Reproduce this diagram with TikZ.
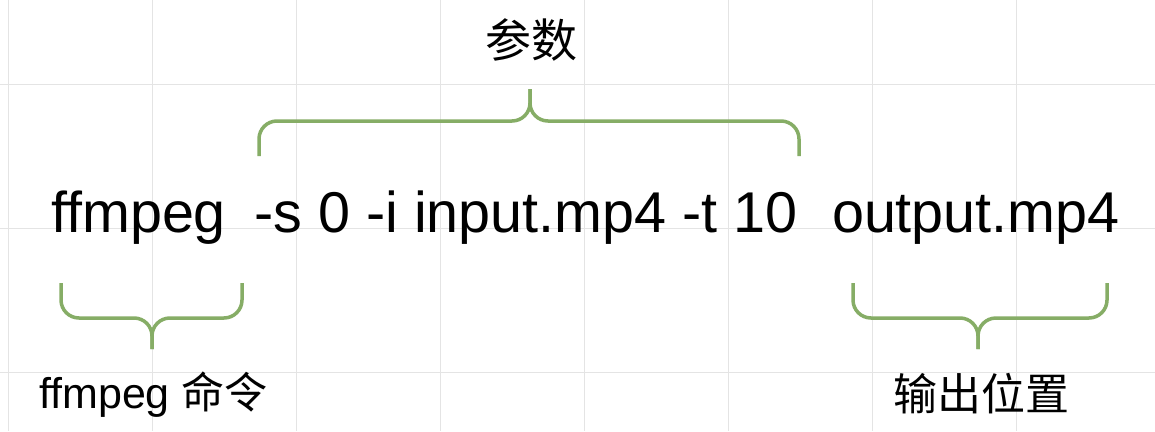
\documentclass[tikz,border=0pt]{standalone}
\usepackage{fontspec}
\setmainfont{Liberation Sans}
\newfontfamily\cjk{Noto Sans CJK SC}
\usepackage{tikz}
\usetikzlibrary{positioning}

\definecolor{bracegreen}{RGB}{134,173,102}
\definecolor{gridgray}{RGB}{228,228,228}

\begin{document}
\begin{tikzpicture}[x=1pt,y=-1pt,node distance=30pt,
  cmd/.style={inner sep=0pt,text height=42pt,text depth=12pt,font=\fontsize{57.5}{60}\selectfont},
  tag/.style={inner sep=0pt,font=\fontsize{43}{48}\selectfont},
  brace line/.style={draw=bracegreen,line width=3.5pt,rounded corners=18pt}]

  % background and grid
  \fill[white] (0,0) rectangle (1155,431);
  \useasboundingbox (0,0) rectangle (1155,431);
  \foreach \x in {8,152,...,1016}
    \draw[gridgray,line width=1pt] (\x,0) -- (\x,431);
  \foreach \y in {84,228,372}
    \draw[gridgray,line width=1pt] (0,\y) -- (1155,\y);

  % the command line
  \node[cmd,anchor=west] (cmd) at (51,217) {ffmpeg};
  \node[cmd] (args) [right=28pt of cmd] {-s 0 -i input.mp4 -t 10};
  \node[cmd] (out) [right=34pt of args] {output.mp4};

  % braces
  \draw[brace line] (259,156) -- (259,121) -- (530,121) -- (530,89);
  \draw[brace line] (799,156) -- (799,121) -- (530,121) -- (530,89);
  \draw[brace line] (61,283) -- (61,318) -- (152,318) -- (152,349);
  \draw[brace line] (242,283) -- (242,318) -- (152,318) -- (152,349);
  \draw[brace line] (853,283) -- (853,318) -- (978,318) -- (978,349);
  \draw[brace line] (1107,283) -- (1107,318) -- (978,318) -- (978,349);

  % labels
  \node[tag,font=\fontsize{46}{50}\selectfont\cjk] (params) at (531,40) {参数};
  \node[tag,anchor=base west] (cmdtag) at (39,408) {ffmpeg {\cjk 命令}};
  \node[tag,font=\fontsize{44}{48}\selectfont\cjk] (outtag) at (981,394) {输出位置};
\end{tikzpicture}
\end{document}
